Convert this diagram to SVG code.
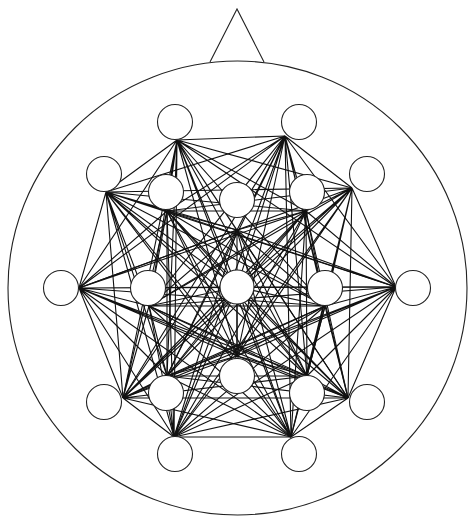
<svg xmlns="http://www.w3.org/2000/svg" width="474" height="526" viewBox="0 0 474 526">
<style>
.head{fill:none;stroke:#222;stroke-width:1.1}
.e{fill:none;stroke:#111;stroke-width:1.1}
.n{fill:#fff;stroke:#222;stroke-width:1.1}
</style>
<rect width="474" height="526" fill="#fff"/>
<g id="head">
<ellipse class="head" cx="237.5" cy="288" rx="229.5" ry="227"/>
<polyline class="head" points="210,62 237,9 264,62"/>
</g>
<g id="connectors">
<path class="e" d="M177 140L285 136M177 140L106 192M177 140L352 188M177 140L79 288M177 140L396 287M177 140L123 398M177 140L348 398M177 140L174 437M177 140L291 437M177 140L167 211M177 140L237 230M177 140L306 211M177 140L149 306M177 140L237 287M177 140L325 306M177 140L167 376M177 140L237 356M177 140L307 376"/>
<path class="e" d="M285 136L106 192M285 136L352 188M285 136L79 288M285 136L396 287M285 136L123 398M285 136L348 398M285 136L174 437M285 136L291 437M285 136L167 211M285 136L237 230M285 136L306 211M285 136L149 306M285 136L237 287M285 136L325 306M285 136L167 376M285 136L237 356M285 136L307 376"/>
<path class="e" d="M106 192L352 188M106 192L79 288M106 192L396 287M106 192L123 398M106 192L348 398M106 192L174 437M106 192L291 437M106 192L167 211M106 192L237 230M106 192L306 211M106 192L149 306M106 192L237 287M106 192L325 306M106 192L167 376M106 192L237 356M106 192L307 376"/>
<path class="e" d="M352 188L79 288M352 188L396 287M352 188L123 398M352 188L348 398M352 188L174 437M352 188L291 437M352 188L167 211M352 188L237 230M352 188L306 211M352 188L149 306M352 188L237 287M352 188L325 306M352 188L167 376M352 188L237 356M352 188L307 376"/>
<path class="e" d="M79 288L396 287M79 288L123 398M79 288L348 398M79 288L174 437M79 288L291 437M79 288L167 211M79 288L237 230M79 288L306 211M79 288L149 306M79 288L237 287M79 288L325 306M79 288L167 376M79 288L237 356M79 288L307 376"/>
<path class="e" d="M396 287L123 398M396 287L348 398M396 287L174 437M396 287L291 437M396 287L167 211M396 287L237 230M396 287L306 211M396 287L149 306M396 287L237 287M396 287L325 306M396 287L167 376M396 287L237 356M396 287L307 376"/>
<path class="e" d="M123 398L348 398M123 398L174 437M123 398L291 437M123 398L167 211M123 398L237 230M123 398L306 211M123 398L149 306M123 398L237 287M123 398L325 306M123 398L167 376M123 398L237 356M123 398L307 376"/>
<path class="e" d="M348 398L174 437M348 398L291 437M348 398L167 211M348 398L237 230M348 398L306 211M348 398L149 306M348 398L237 287M348 398L325 306M348 398L167 376M348 398L237 356M348 398L307 376"/>
<path class="e" d="M174 437L291 437M174 437L167 211M174 437L237 230M174 437L306 211M174 437L149 306M174 437L237 287M174 437L325 306M174 437L167 376M174 437L237 356M174 437L307 376"/>
<path class="e" d="M291 437L167 211M291 437L237 230M291 437L306 211M291 437L149 306M291 437L237 287M291 437L325 306M291 437L167 376M291 437L237 356M291 437L307 376"/>
<path class="e" d="M167 211L237 230M167 211L306 211M167 211L149 306M167 211L237 287M167 211L325 306M167 211L167 376M167 211L237 356M167 211L307 376"/>
<path class="e" d="M237 230L306 211M237 230L149 306M237 230L237 287M237 230L325 306M237 230L167 376M237 230L237 356M237 230L307 376"/>
<path class="e" d="M306 211L149 306M306 211L237 287M306 211L325 306M306 211L167 376M306 211L237 356M306 211L307 376"/>
<path class="e" d="M149 306L237 287M149 306L325 306M149 306L167 376M149 306L237 356M149 306L307 376"/>
<path class="e" d="M237 287L325 306M237 287L167 376M237 287L237 356M237 287L307 376"/>
<path class="e" d="M325 306L167 376M325 306L237 356M325 306L307 376"/>
<path class="e" d="M167 376L237 356M167 376L307 376"/>
<path class="e" d="M237 356L307 376"/>
</g>
<g id="node-tl"><circle class="n" cx="175" cy="122" r="17.5"/></g>
<g id="node-tr"><circle class="n" cx="299" cy="122" r="17.5"/></g>
<g id="node-ul"><circle class="n" cx="104" cy="174" r="17.5"/></g>
<g id="node-ur"><circle class="n" cx="367" cy="174" r="17.5"/></g>
<g id="node-l"><circle class="n" cx="61" cy="288" r="17.5"/></g>
<g id="node-r"><circle class="n" cx="413" cy="288" r="17.5"/></g>
<g id="node-ll"><circle class="n" cx="104" cy="402" r="17.5"/></g>
<g id="node-lr"><circle class="n" cx="367" cy="402" r="17.5"/></g>
<g id="node-bl"><circle class="n" cx="175" cy="454" r="17.5"/></g>
<g id="node-br"><circle class="n" cx="299" cy="454" r="17.5"/></g>
<g id="node-iul"><circle class="n" cx="166" cy="192" r="17.5"/></g>
<g id="node-itc"><circle class="n" cx="237" cy="200" r="17.5"/></g>
<g id="node-iur"><circle class="n" cx="307" cy="192" r="17.5"/></g>
<g id="node-il"><circle class="n" cx="148" cy="288" r="17.5"/></g>
<g id="node-c"><circle class="n" cx="237" cy="287" r="17"/></g>
<g id="node-ir"><circle class="n" cx="325" cy="288" r="17.5"/></g>
<g id="node-ill"><circle class="n" cx="166" cy="393" r="17.5"/></g>
<g id="node-ibc"><circle class="n" cx="237" cy="376" r="17.5"/></g>
<g id="node-ilr"><circle class="n" cx="307" cy="393" r="17.5"/></g>
</svg>
